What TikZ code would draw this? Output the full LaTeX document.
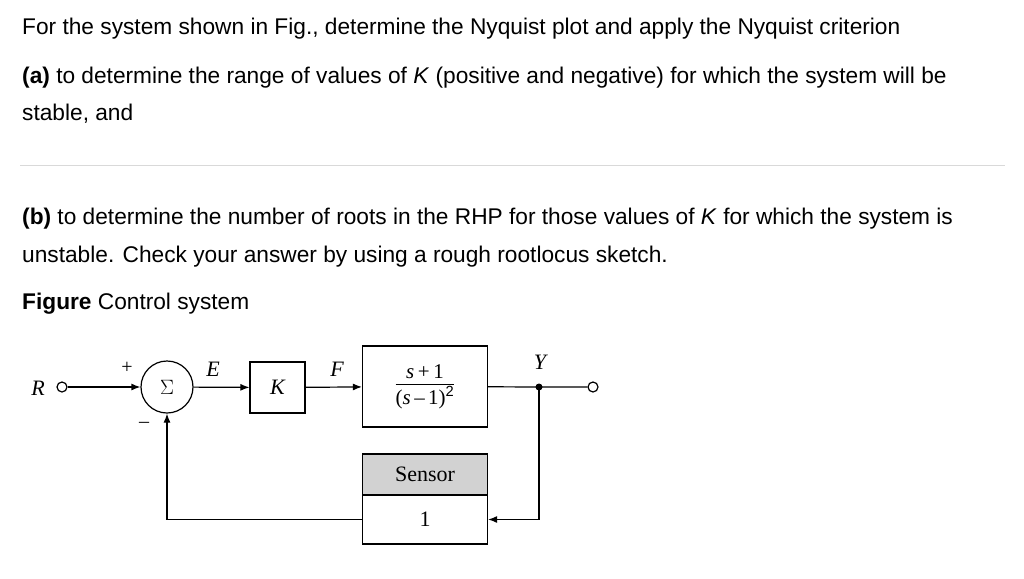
\documentclass[tikz,border=0pt]{standalone}
\usepackage{fontspec}
\setmainfont{Liberation Sans}
\newfontfamily\tms{Liberation Serif}
\usetikzlibrary{arrows.meta}
\begin{document}
\begin{tikzpicture}[x=1pt,y=-1pt,
  txt/.style={anchor=base west,inner sep=0pt,font=\fontsize{22.7}{26}\selectfont},
  blk/.style={draw,line width=1.2pt,inner sep=0pt},
  lab/.style={font=\tms\fontsize{22}{24}\selectfont\itshape,inner sep=0pt},
  ln/.style={line width=1.2pt},
  arr/.style={ln,-{Latex[length=9pt,width=7pt]}},
  term/.style={circle,draw,line width=1.2pt,minimum size=10pt,inner sep=0pt,fill=white}]
\useasboundingbox (0,0) rectangle (1024,578);
\node[txt] (t1) at (22,35) {For the system shown in Fig., determine the Nyquist plot and apply the Nyquist criterion};
\node[txt] (t2) at (22,83) {\textbf{(a)} to determine the range of values of \textit{K} (positive and negative) for which the system will be};
\node[txt] (t3) at (22,120) {stable, and};
\draw[gray!30,line width=1pt] (20,165) -- (1005,165);
\node[txt] (t4) at (22,224) {\textbf{(b)} to determine the number of roots in the RHP for those values of \textit{K} for which the system is};
\node[txt] (t5) at (22,262) {unstable. Check your answer by using a rough rootlocus sketch.};
\node[txt] (t6) at (22,309) {\textbf{Figure} Control system};
% diagram
\node[lab] (R) at (38,388) {R};
\node[term] (rin) at (62,387) {};
\node[circle,draw,line width=1.2pt,minimum size=52pt,inner sep=0pt,font=\tms\fontsize{22}{24}\selectfont] (sum) at (167,387) {$\Sigma$};
\node[blk,minimum width=55pt,minimum height=51pt,font=\tms\fontsize{22}{24}\selectfont\itshape] (K) at (277.5,387.5) {K};
\node[blk,minimum width=125pt,minimum height=81pt,font=\tms\fontsize{21}{24}\selectfont] (G) at (425,386.5) {\begin{tabular}{@{}c@{}}\textit{s}\,+\,1\\[-2pt]\hline\rule{0pt}{20pt}(\textit{s}\,\textendash\,1)$^{\mathrm{2}}$\end{tabular}};
\node[blk,fill=gray!35,minimum width=125pt,minimum height=41pt,font=\tms\fontsize{22}{24}\selectfont] (S) at (425,474.5) {Sensor};
\node[blk,minimum width=125pt,minimum height=49pt,font=\tms\fontsize{22}{24}\selectfont] (H) at (425,519.5) {1};
\coordinate (Yd) at (539,387);
\node[term] (yout) at (593,387) {};
\fill (Yd) circle (3.5pt);
\draw[arr] (rin) -- (sum);
\draw[arr] (sum) -- (K);
\draw[arr] (K) -- (G);
\draw[ln] (G) -- (Yd) -- (yout);
\draw[arr] (Yd) |- (H.east);
\draw[arr] (H.west) -| (sum.south);
\node[lab,font=\tms\fontsize{20}{22}\selectfont] at (127,368) {+};
\node[lab,font=\tms\fontsize{20}{22}\selectfont] at (144,425) {\textendash};
\node[lab] at (213,369) {E};
\node[lab] at (337,369) {F};
\node[lab] at (540,362) {Y};
\end{tikzpicture}
\end{document}
